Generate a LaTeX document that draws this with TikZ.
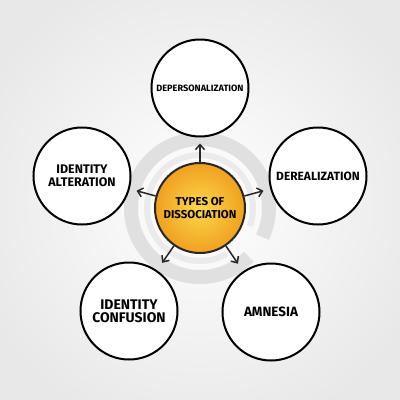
\documentclass[tikz,border=0pt]{standalone}
\usepackage{fontspec}
\setmainfont{Fira Sans}
\usetikzlibrary{arrows.meta}

\definecolor{hubedge}{HTML}{F0A020}
\definecolor{hubcore}{HTML}{FDD84A}

\tikzset{
  topic/.style={circle, draw=black, line width=2bp, fill=white, minimum size=97bp,
    inner sep=0pt, align=center, font=\bfseries\fontsize{12.5}{12.5}\selectfont},
  hub/.style={circle, draw=black!85, line width=2bp, minimum size=90bp, inner sep=0pt,
    align=center, shading=radial, inner color=hubcore, outer color=hubedge,
    font=\bfseries\fontsize{11.5}{12.5}\selectfont},
  link/.style={-{Straight Barb[length=5bp,width=9bp]}, line width=1.5bp, draw=black!85}
}

\begin{document}
\begin{tikzpicture}[x=1bp,y=-1bp]
\clip (0,0) rectangle (400,400);
\shade[inner color=white, outer color=black!9] (-40,-40) rectangle (440,440);
% gray spiral behind the hub
\draw[black!12, line width=14bp] (200,208) ++(45:69) arc[start angle=45, end angle=385, radius=69];
\draw[black!8, line width=6bp] (200,208) ++(60:53) arc[start angle=60, end angle=380, radius=53];

\node[hub] (C) at (200,208) {TYPES OF\\DISSOCIATION};
\node[topic, font=\bfseries\fontsize{9.2}{10}\selectfont] (P) at (200,88) {DEPERSONALIZATION};
\node[topic, font=\bfseries\fontsize{12}{12}\selectfont] (R) at (318,176) {DEREALIZATION};
\node[topic] (L) at (82,176) {IDENTITY\\ALTERATION};
\node[topic, font=\bfseries\fontsize{14}{13}\selectfont] (F) at (129,311) {IDENTITY\\CONFUSION};
\node[topic, font=\bfseries\fontsize{13.5}{13}\selectfont] (A) at (271,312) {AMNESIA};

\draw[link, shorten >=6bp] (C) -- (P);
\draw[link, shorten >=7bp] (C) -- (R);
\draw[link, shorten >=7bp] (C) -- (L);
\draw[link, shorten >=9bp] (C) -- (F);
\draw[link, shorten >=9bp] (C) -- (A);
\end{tikzpicture}
\end{document}
